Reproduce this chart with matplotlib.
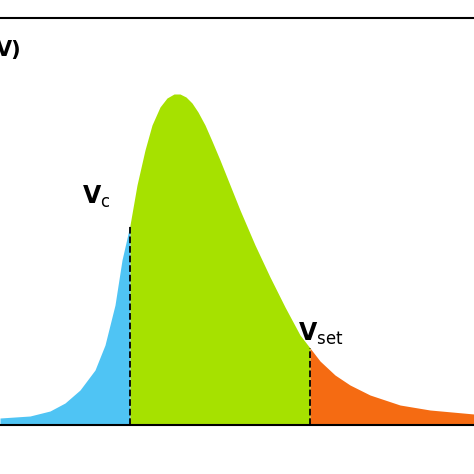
import numpy as np
import matplotlib.pyplot as plt

# curve (x position, height above the axis)
curve_x = [0, 30, 50, 65, 80, 95, 105, 115, 122, 130, 137, 145, 152, 160, 167, 174, 180,
           186, 192, 198, 205, 212, 220, 230, 240, 255, 270, 285, 300, 310, 320, 335,
           350, 370, 400, 430, 474]
curve_h = [7, 9, 14, 22, 35, 55, 80, 120, 165, 200, 240, 275, 300, 318, 327, 331, 331,
           328, 322, 313, 300, 284, 265, 240, 215, 180, 148, 118, 90, 77, 64, 50,
           40, 30, 20, 15, 11]
v_c = 130
v_set = 310
colors = ["#4FC4F4", "#A6E100", "#F56B12"]

base = 49  # axis height in figure units
x = np.array(curve_x, dtype=float)
y = np.array(curve_h, dtype=float) + base

fig = plt.figure(figsize=(4.74, 4.74), dpi=100)
ax = fig.add_axes([0, 0, 1, 1])
ax.set_xlim(0, 474)
ax.set_ylim(0, 474)
ax.axis("off")

regions = [x <= v_c, (x >= v_c) & (x <= v_set), x >= v_set]
for mask, c in zip(regions, colors):
    ax.fill_between(x[mask], base, y[mask], color=c, lw=0)

hc = y[x == v_c][0]
hs = y[x == v_set][0]
ax.plot([v_c, v_c], [base, hc], "k--", lw=1.3)
ax.plot([v_set, v_set], [base, hs], "k--", lw=1.3)

ax.axhline(base, color="black", lw=1.5)
ax.axhline(456, color="black", lw=1.5)

ax.text(-4, 424, "V)", fontsize=15, fontweight="bold", va="center", ha="left")
ax.text(82, 277, r"$\mathbf{V}_{\mathrm{c}}$", fontsize=17, va="center")
ax.text(298, 140, r"$\mathbf{V}_{\mathrm{set}}$", fontsize=17, va="center")

fig.savefig("out.png", dpi=100)
